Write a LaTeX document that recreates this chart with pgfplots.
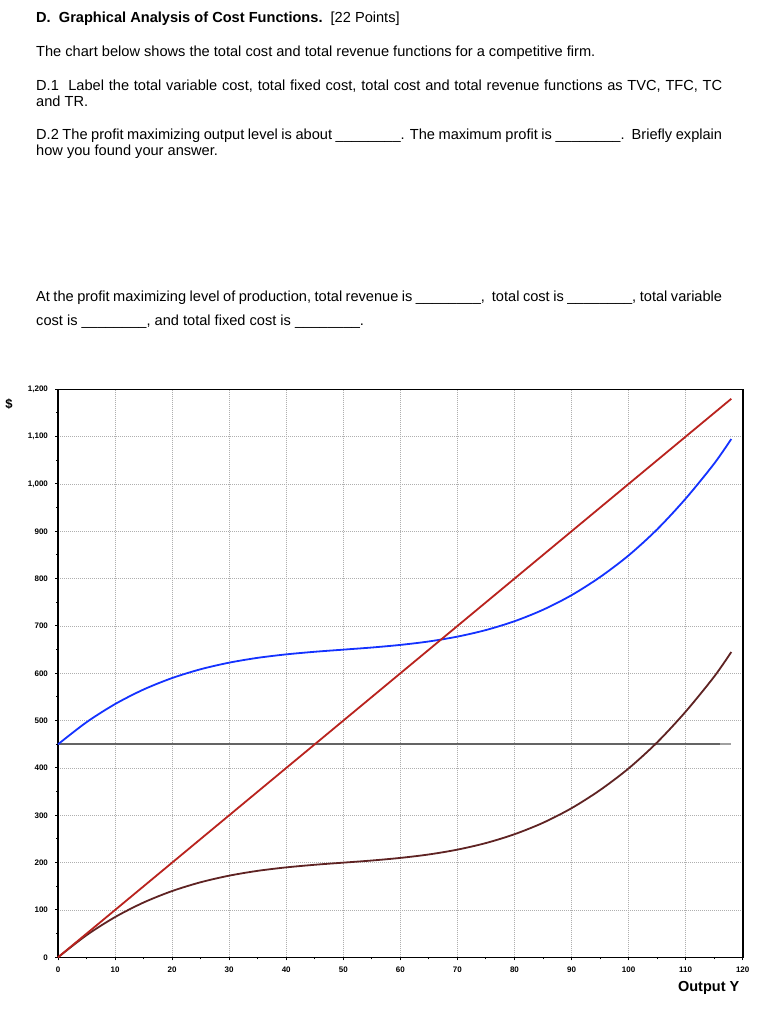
\documentclass[border=0pt]{standalone}
\usepackage{fontspec}
\setmainfont{Liberation Sans}
\usepackage{pgfplots}
\usepackage{pgfplotstable}
\pgfplotsset{compat=1.18}

\definecolor{trred}{RGB}{185,35,30}
\definecolor{tcblue}{RGB}{20,50,255}
\definecolor{tvcbrown}{RGB}{95,35,35}
\definecolor{tfcgray}{RGB}{100,100,100}
\definecolor{tfclight}{RGB}{160,160,160}
\definecolor{gridgray}{RGB}{175,175,175}

% cost curves
\pgfplotstableread{
x tvc tc
0 0 450
5 46.7 496.7
10 85 535
15 115.8 565.8
20 140 590
25 158.6 608.6
30 172.5 622.5
35 182.7 632.7
40 190 640
45 195.5 645.5
50 200 650
55 204.5 654.5
60 210 660
65 217.3 667.3
70 227.5 677.5
75 241.4 691.4
80 260 710
85 284.2 734.2
90 315 765
95 353.3 803.3
100 399 849
105 454 904
110 519 969
115 593 1043
118 645 1095
}\costdata

\newcommand{\blank}{\_\_\_\_\_\_\_\_}

\begin{document}
\begin{tikzpicture}
\path[use as bounding box, fill=white] (0bp,0bp) rectangle (781bp,-1024bp);
\fontsize{14.6bp}{17bp}\selectfont
\tikzset{txt/.style={anchor=base west, inner sep=0pt}}
\node[txt] at (36bp,-22bp) {\textbf{D.\ \ Graphical Analysis of Cost Functions.}\ \ [22 Points]};
\node[txt] at (36bp,-56bp) {The chart below shows the total cost and total revenue functions for a competitive firm.};
\node[txt] at (36bp,-90bp) {\makebox[686bp][s]{D.1\ \ Label the total variable cost, total fixed cost, total cost and total revenue functions as TVC, TFC, TC}};
\node[txt] at (36bp,-106bp) {and TR.};
\node[txt] at (36bp,-139bp) {\makebox[686bp][s]{D.2 The profit maximizing output level is about \blank. The maximum profit is \blank.\ \ Briefly explain}};
\node[txt] at (36bp,-155bp) {how you found your answer.};
\node[txt] at (36bp,-301bp) {\makebox[686bp][s]{At the profit maximizing level of production, total revenue is \blank,\ \ total cost is \blank, total variable}};
\node[txt] at (36bp,-325bp) {cost is \blank, and total fixed cost is \blank.};
\node[inner sep=0pt] at (9bp,-404bp) {\fontsize{13bp}{13bp}\selectfont\bfseries \$};
\node[inner sep=0pt] at (708.7bp,-988bp) {\fontsize{14.5bp}{15bp}\selectfont\bfseries Output Y};

\begin{axis}[
  at={(58bp,-957.3bp)}, anchor=south west,
  scale only axis, width=684.7bp, height=568bp,
  xmin=0, xmax=120, ymin=0, ymax=1200,
  xtick={0,10,...,120}, ytick={0,100,...,1200},
  minor x tick num=1, minor y tick num=1,
  tick pos=left, tick align=outside,
  major tick length=3bp, minor tick length=2bp,
  tick style={black, line width=1bp},
  axis line style={black, line width=1.6bp},
  grid=major,
  major grid style={gridgray, line width=0.7bp, dash pattern=on 1bp off 1bp},
  /pgf/number format/assume math mode=true,
  /pgf/number format/1000 sep={,},
  tick label style={font=\fontsize{8bp}{8bp}\selectfont\bfseries},
  xticklabel style={yshift=-2bp},
  yticklabel style={xshift=-2bp},
  clip=false,
]
\addplot[tfclight, line width=2bp] coordinates {(0,450) (118,450)};
\addplot[tfcgray, line width=2bp] coordinates {(0,450) (116,450)};
\addplot[tvcbrown, line width=1.8bp, smooth] table[x=x, y=tvc] {\costdata};
\addplot[tcblue, line width=1.8bp, smooth] table[x=x, y=tc] {\costdata};
\addplot[trred, line width=1.8bp] coordinates {(0,0) (118,1180)};
\end{axis}
\end{tikzpicture}
\end{document}
